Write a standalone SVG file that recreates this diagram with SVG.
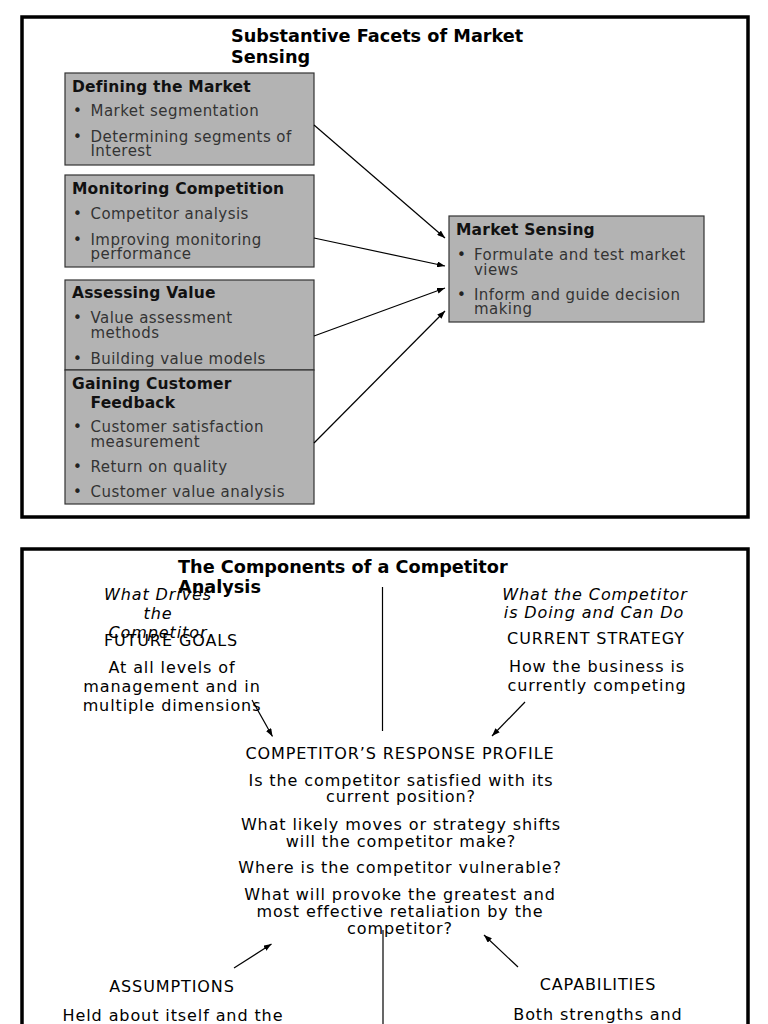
<svg xmlns="http://www.w3.org/2000/svg" width="768" height="1024" viewBox="0 0 768 1024">
<defs>
<marker id="ah" markerWidth="8" markerHeight="6" refX="8" refY="3" orient="auto" markerUnits="userSpaceOnUse">
<path d="M0,0 L8,3 L0,6 Z" fill="#000"/>
</marker>
<style>
.frame{fill:#fff;stroke:#000;stroke-width:3.5}
.box{fill:#b3b3b3;stroke:#333;stroke-width:1.2}
.title{font-family:"DejaVu Sans",sans-serif;font-weight:bold;font-size:17.7px;fill:#000}
.hd{font-family:"DejaVu Sans",sans-serif;font-weight:bold;font-size:15.5px;letter-spacing:0.2px;fill:#111}
.it{font-family:"DejaVu Sans",sans-serif;font-size:15px;letter-spacing:0.45px;fill:#333}
.bu{font-family:"DejaVu Sans",sans-serif;font-size:15px;fill:#222}
.tx{font-family:"DejaVu Sans",sans-serif;font-size:16px;letter-spacing:0.9px;fill:#000;text-anchor:middle}
.itl{font-style:italic}
.conn line{stroke:#000;stroke-width:1.2;marker-end:url(#ah)}
.vline{stroke:#000;stroke-width:1.2}
</style>
</defs>
<rect width="768" height="1024" fill="#fff"/>

<!-- Top panel -->
<rect class="frame" x="22" y="17" width="726" height="500"/>
<text class="title" x="231" y="42">Substantive Facets of Market</text>
<text class="title" x="231" y="63">Sensing</text>

<g id="defining-market">
<rect class="box" x="65" y="73" width="249" height="92"/>
<text class="hd" x="72" y="92">Defining the Market</text>
<text class="bu" x="73" y="116">•</text><text class="it" x="90.5" y="116">Market segmentation</text>
<text class="bu" x="73" y="141.5">•</text><text class="it" x="90.5" y="141.5">Determining segments of</text>
<text class="it" x="90.5" y="156">Interest</text>
</g>

<g id="monitoring-competition">
<rect class="box" x="65" y="175" width="249" height="92"/>
<text class="hd" x="72" y="193.5">Monitoring Competition</text>
<text class="bu" x="73" y="219">•</text><text class="it" x="90.5" y="219">Competitor analysis</text>
<text class="bu" x="73" y="245">•</text><text class="it" x="90.5" y="245">Improving monitoring</text>
<text class="it" x="90.5" y="258.5">performance</text>
</g>

<g id="assessing-value">
<rect class="box" x="65" y="280" width="249" height="90"/>
<text class="hd" x="72" y="298">Assessing Value</text>
<text class="bu" x="73" y="323">•</text><text class="it" x="90.5" y="323">Value assessment</text>
<text class="it" x="90.5" y="338">methods</text>
<text class="bu" x="73" y="364">•</text><text class="it" x="90.5" y="364">Building value models</text>
</g>

<g id="gaining-feedback">
<rect class="box" x="65" y="370" width="249" height="134"/>
<text class="hd" x="72" y="388.5">Gaining Customer</text>
<text class="hd" x="90.5" y="407.5">Feedback</text>
<text class="bu" x="73" y="432">•</text><text class="it" x="90.5" y="432">Customer satisfaction</text>
<text class="it" x="90.5" y="446.5">measurement</text>
<text class="bu" x="73" y="472">•</text><text class="it" x="90.5" y="472">Return on quality</text>
<text class="bu" x="73" y="497">•</text><text class="it" x="90.5" y="497">Customer value analysis</text>
</g>

<g id="market-sensing">
<rect class="box" x="449" y="216" width="255" height="106"/>
<text class="hd" x="456" y="235">Market Sensing</text>
<text class="bu" x="457" y="260">•</text><text class="it" x="474" y="260">Formulate and test market</text>
<text class="it" x="474" y="275">views</text>
<text class="bu" x="457" y="300">•</text><text class="it" x="474" y="300">Inform and guide decision</text>
<text class="it" x="474" y="314">making</text>
</g>

<g id="connectors-top" class="conn">
<line x1="314" y1="125" x2="445" y2="238"/>
<line x1="314" y1="238" x2="445" y2="266"/>
<line x1="314" y1="336" x2="445" y2="288"/>
<line x1="314" y1="443" x2="445" y2="311"/>
</g>

<!-- Bottom panel -->
<rect class="frame" x="22" y="549" width="726" height="520"/>
<text class="title" x="178" y="573">The Components of a Competitor</text>
<text class="title" x="178" y="593">Analysis</text>

<line class="vline" x1="382.5" y1="587" x2="382.5" y2="731"/>
<line class="vline" x1="383" y1="930" x2="383" y2="1024"/>

<g id="drives">
<text class="tx itl" x="158" y="600">What Drives</text>
<text class="tx itl" x="158" y="619">the</text>
<text class="tx itl" x="158" y="638">Competitor</text>
</g>
<g id="future-goals">
<text class="tx" x="171" y="645.5">FUTURE GOALS</text>
<text class="tx" x="172" y="673">At all levels of</text>
<text class="tx" x="172" y="692">management and in</text>
<text class="tx" x="172" y="711">multiple dimensions</text>
</g>
<g id="doing">
<text class="tx itl" x="595" y="600">What the Competitor</text>
<text class="tx itl" x="594" y="618">is Doing and Can Do</text>
</g>
<g id="current-strategy">
<text class="tx" x="596" y="644">CURRENT STRATEGY</text>
<text class="tx" x="597" y="672">How the business is</text>
<text class="tx" x="597" y="691">currently competing</text>
</g>
<g id="response-profile">
<text class="tx" x="400" y="759">COMPETITOR’S RESPONSE PROFILE</text>
<text class="tx" x="401" y="786">Is the competitor satisfied with its</text>
<text class="tx" x="401" y="802">current position?</text>
<text class="tx" x="401" y="830">What likely moves or strategy shifts</text>
<text class="tx" x="401" y="846.5">will the competitor make?</text>
<text class="tx" x="400" y="873">Where is the competitor vulnerable?</text>
<text class="tx" x="400" y="900">What will provoke the greatest and</text>
<text class="tx" x="400" y="917">most effective retaliation by the</text>
<text class="tx" x="400" y="934">competitor?</text>
</g>
<g id="assumptions">
<text class="tx" x="172" y="991.5">ASSUMPTIONS</text>
<text class="tx" x="173" y="1020.5">Held about itself and the</text>
</g>
<g id="capabilities">
<text class="tx" x="598" y="990">CAPABILITIES</text>
<text class="tx" x="598" y="1019.5">Both strengths and</text>
</g>

<g id="connectors-bottom" class="conn">
<line x1="252" y1="700" x2="272.5" y2="736.5"/>
<line x1="525" y1="702" x2="492" y2="736"/>
<line x1="234" y1="968" x2="271.5" y2="944"/>
<line x1="518" y1="967" x2="484" y2="935"/>
</g>
</svg>
